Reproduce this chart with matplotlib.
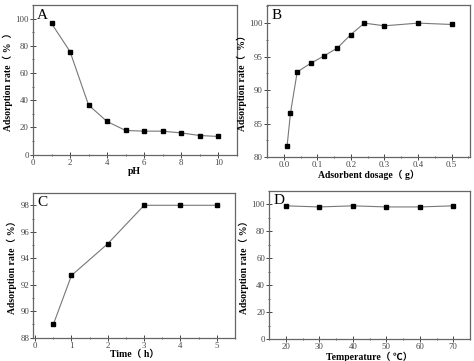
import numpy as np
import matplotlib
matplotlib.use("Agg")
import matplotlib.pyplot as plt
from matplotlib.ticker import MultipleLocator

# panel A: pH
ph = [1, 2, 3, 4, 5, 6, 7, 8, 9, 10]
rate_ph = [96.5, 75.8, 36.5, 24.4, 17.8, 17.3, 17.3, 16.0, 14.1, 13.4]
# panel B: adsorbent dosage
dose = [0.01, 0.02, 0.04, 0.08, 0.12, 0.16, 0.2, 0.24, 0.3, 0.4, 0.5]
rate_dose = [81.7, 86.6, 92.7, 94.0, 95.1, 96.3, 98.3, 100.0, 99.6, 100.0, 99.8]
# panel C: time
time_h = [0.5, 1, 2, 3, 4, 5]
rate_time = [89.0, 92.7, 95.1, 98.0, 98.0, 98.0]
# panel D: temperature
temp = [20, 30, 40, 50, 60, 70]
rate_temp = [98.8, 98.0, 98.8, 98.0, 98.0, 98.8]

FAM = ["Liberation Serif", "Noto Sans CJK SC"]

fig = plt.figure(figsize=(4.74, 3.61), dpi=100)

panels = [
    # rect, x, y, letter, xlabel, ylabel, xlim, ylim, xmaj, ymaj
    ([0.0696, 0.5715, 0.4298, 0.4145], ph, rate_ph, "A", "pH",
     "Adsorption rate（ %  ）", (0, 11), (0, 110), 2, 20),
    ([0.5633, 0.5651, 0.4283, 0.4209], dose, rate_dose, "B", "Adsorbent dosage（ g）",
     "Adsorption rate（  %）", (-0.05, 0.555), (80, 102.7), 0.1, 5),
    ([0.0703, 0.0645, 0.4255, 0.4017], time_h, rate_time, "C", "Time（ h）",
     "Adsorption rate（ %）", (-0.05, 5.5), (88, 98.95), 1, 2),
    ([0.5681, 0.0601, 0.4235, 0.4116], temp, rate_temp, "D", "Temperature（ ℃）",
     "Adsorption rate（ %）", (15, 75), (0, 110), 10, 20),
]

for rect, x, y, letter, xl, yl, xlim, ylim, xmaj, ymaj in panels:
    ax = fig.add_axes(rect)
    ax.plot(x, y, color="#777777", lw=0.8, marker="s", ms=3.2,
            mfc="black", mec="black", zorder=3)
    ax.set_xlim(*xlim)
    ax.set_ylim(*ylim)
    ax.xaxis.set_major_locator(MultipleLocator(xmaj))
    ax.xaxis.set_minor_locator(MultipleLocator(xmaj / 2))
    ax.yaxis.set_major_locator(MultipleLocator(ymaj))
    ax.yaxis.set_minor_locator(MultipleLocator(ymaj / 2))
    if letter == "B":
        ax.xaxis.set_major_formatter(plt.FormatStrFormatter("%.1f"))
    for s in ax.spines.values():
        s.set_color("#666666")
        s.set_linewidth(0.9)
    ax.tick_params(which="major", direction="inout", length=4, width=0.7,
                   colors="#444444", labelsize=6.3, pad=1)
    ax.tick_params(which="minor", direction="inout", length=2, width=0.6,
                   colors="#444444")
    for lab in ax.get_xticklabels() + ax.get_yticklabels():
        lab.set_family("Liberation Serif")
    ax.set_xlabel(xl, family=FAM, fontweight="bold", fontsize=7, labelpad=0)
    ax.set_ylabel(yl, family=FAM, fontweight="bold", fontsize=7, labelpad=2)
    ax.text(0.02, 0.975, letter, transform=ax.transAxes, ha="left", va="top",
            family="Liberation Serif", fontsize=11)

fig.savefig("out.png", dpi=100)
